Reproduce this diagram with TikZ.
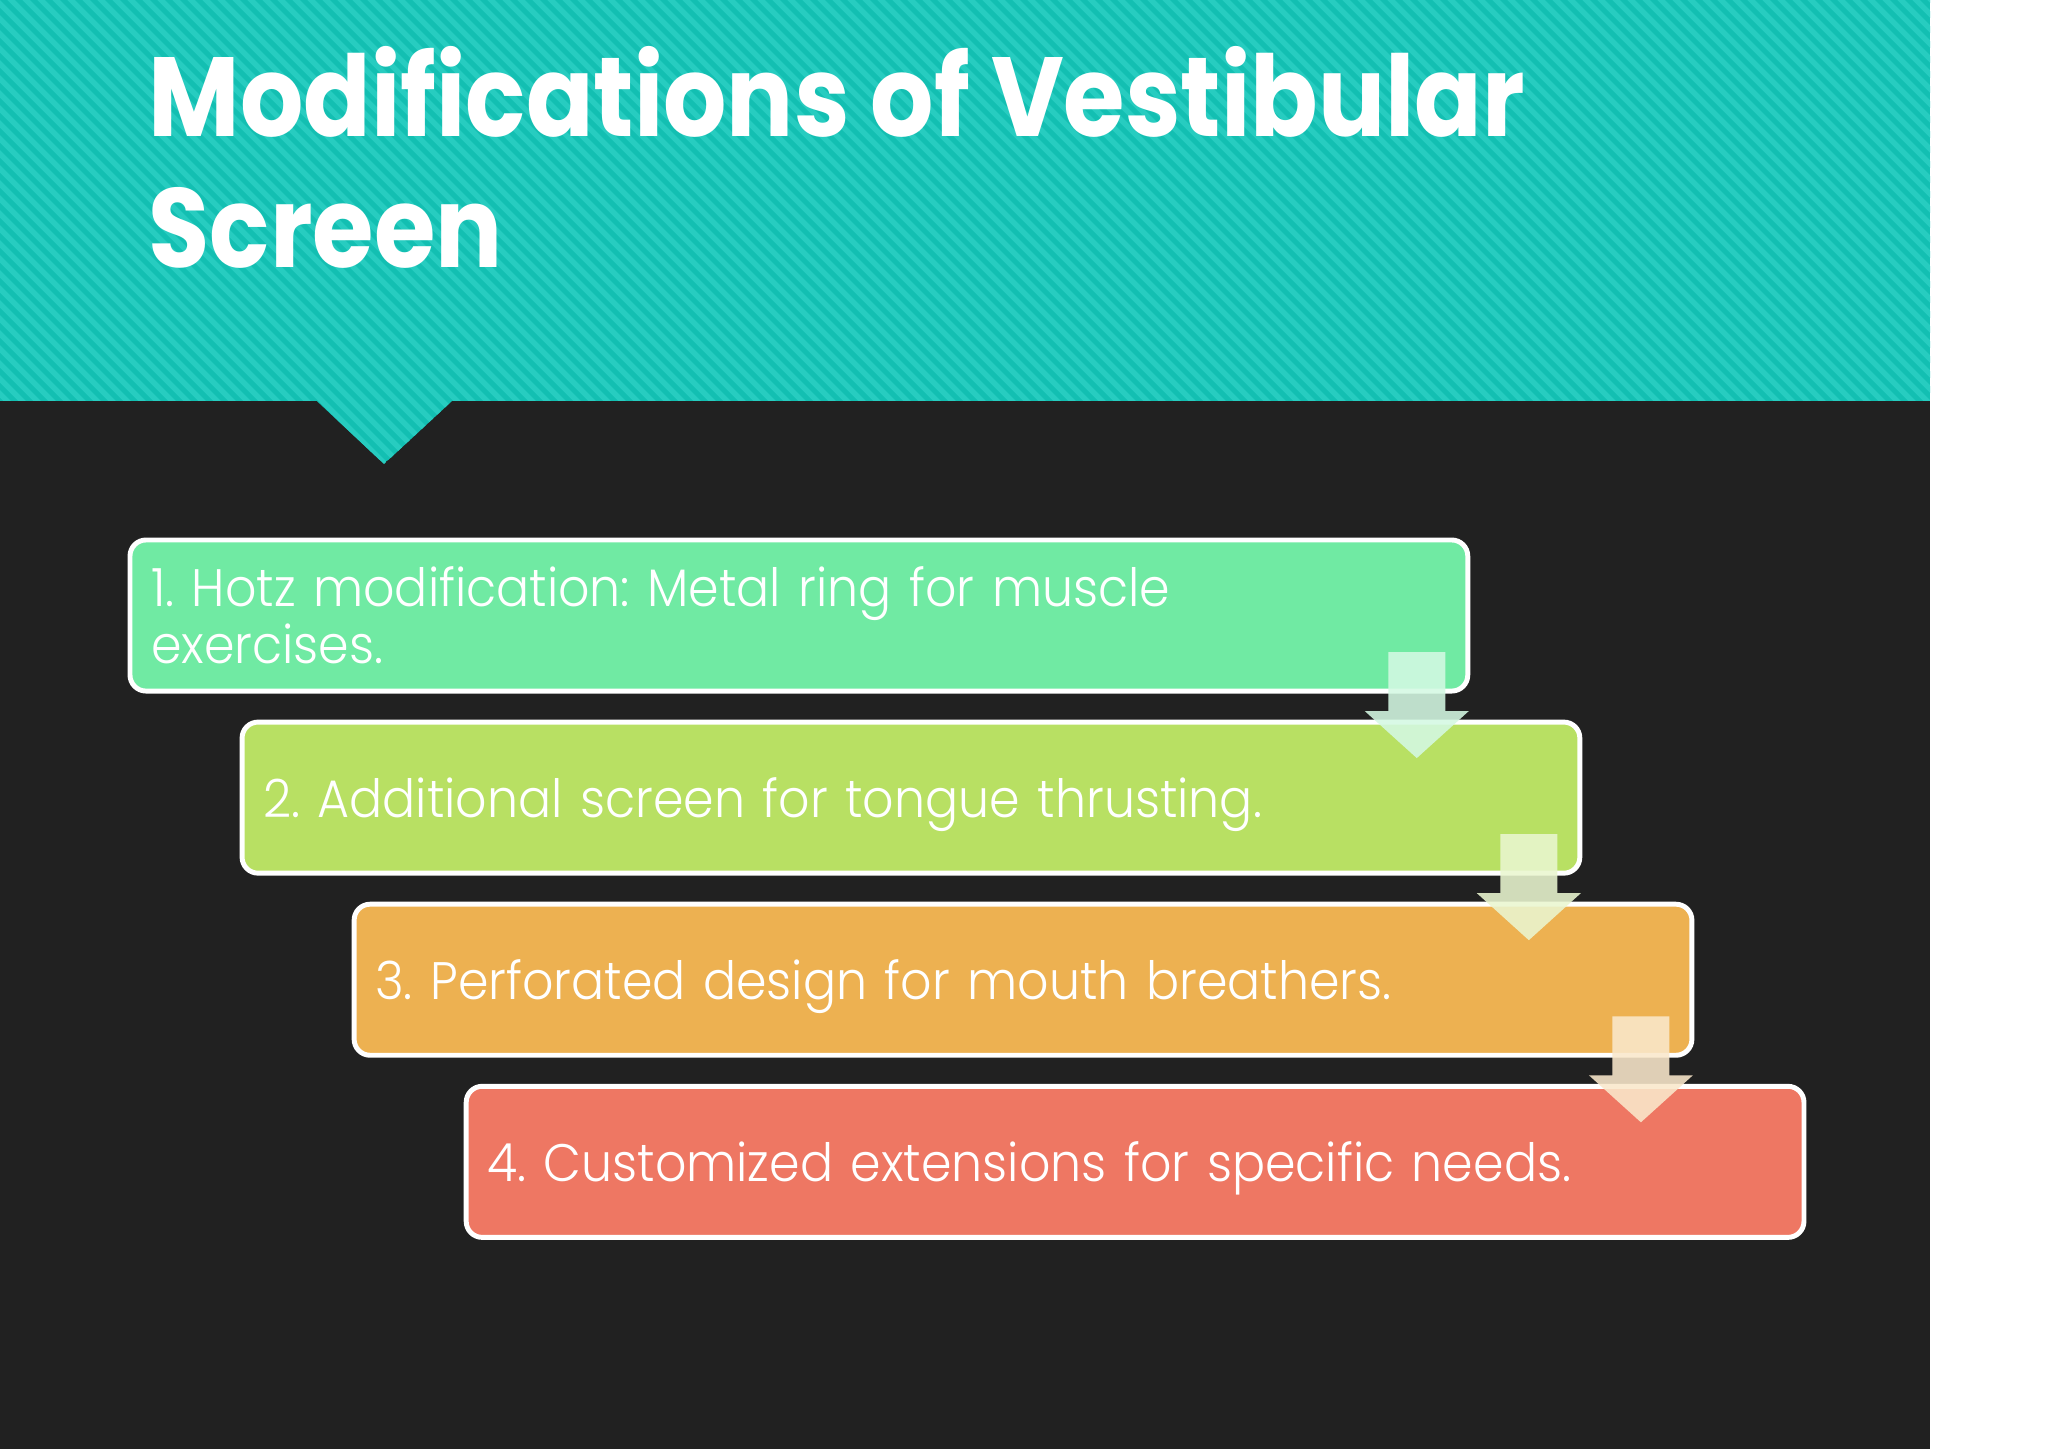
\documentclass[tikz,border=0pt]{standalone}
\usepackage{fontspec}
\setmainfont{Poppins}[UprightFont=* Light, BoldFont=* Bold, FakeStretch=0.93]
\newfontfamily\headfont{Poppins}[UprightFont=* Bold, FakeStretch=0.885]
\usetikzlibrary{positioning,calc}

\definecolor{tealbase}{HTML}{13BFB2}
\definecolor{tealstripe}{HTML}{27CCC0}
\definecolor{slidebg}{HTML}{212121}
\definecolor{mintfill}{HTML}{70EAA3}
\definecolor{limefill}{HTML}{B8E063}
\definecolor{sandfill}{HTML}{EDB151}
\definecolor{coralfill}{HTML}{EE7763}

\begin{document}
\frenchspacing
\begin{tikzpicture}[
  x=0.01cm, y=0.01cm,
  stepbox/.style={draw=white, line width=1.4pt, rounded corners=0.16cm,
    minimum width=13.37cm, minimum height=1.51cm, text width=12.95cm,
    align=left, inner sep=0pt, outer sep=0pt, text=white,
    font=\fontsize{15}{14.8}\selectfont},
  onestep/.style={stepbox, text depth=0pt},
  titletext/.style={text=white, align=left, inner sep=0pt,
    font=\fontsize{32}{37.3}\selectfont\headfont},
  downarrow/.style={fill opacity=0.88},
]
\useasboundingbox (0,0) rectangle (2048,1449);
\fill[white] (0,0) rectangle (2048,1449);
\fill[slidebg] (0,0) rectangle (1930,1449);

% striped header and its pointer
\fill[tealbase] (0,1048) rectangle (1930,1449);
\fill[tealbase, rounded corners=0.06cm] (304,1060) -- (384,985) -- (465,1060) -- cycle;
\begin{scope}
  \clip (0,1449) -- (0,1048) -- (317,1048) -- (384,985) -- (452,1048)
    -- (1930,1048) -- (1930,1449) -- cycle;
  \foreach \s in {-480,-465,...,1935}
    \draw[tealstripe, line width=1.5pt] (\s,1460) -- ++(480,-480);
\end{scope}

\node[titletext, anchor=base west] (title) at (148,1181)
  {Modifications of Vestibular\\Screen};

% the four steps
\node[stepbox, fill=mintfill, anchor=north west] (box1) at (130,909)
  {1. Hotz modification: Metal ring for muscle\\exercises.};
\node[onestep, fill=limefill, below=0.31cm of box1.south west,
  anchor=north west, xshift=1.12cm] (box2)
  {2. Additional screen for tongue thrusting.};
\node[onestep, fill=sandfill, below=0.31cm of box2.south west,
  anchor=north west, xshift=1.12cm] (box3)
  {3. Perforated design for mouth breathers.};
\node[onestep, fill=coralfill, below=0.31cm of box3.south west,
  anchor=north west, xshift=1.12cm] (box4)
  {4. Customized extensions for specific needs.};

% block arrows between steps
\foreach \a/\b/\c in {box1/box2/mintfill, box2/box3/limefill, box3/box4/sandfill} {
  \coordinate (ax) at ($(\a.south east)+(-51,0)$);
  \fill[downarrow, fill=\c!30!white]
    ($(ax)+(-28.5,39)$) -- ($(ax)+(28.5,39)$) -- ($(ax)+(28.5,-20)$)
    -- ($(ax)+(52,-20)$) -- ($(ax |- \b.north)+(0,-36)$)
    -- ($(ax)+(-52,-20)$) -- ($(ax)+(-28.5,-20)$) -- cycle;
}
\end{tikzpicture}
\end{document}
